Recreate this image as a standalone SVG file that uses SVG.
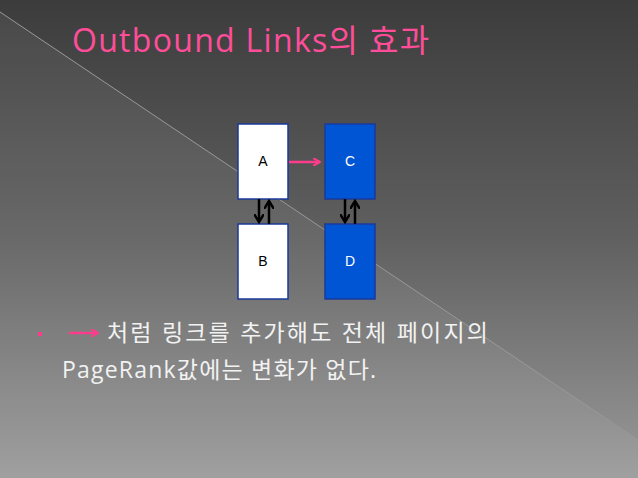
<svg xmlns="http://www.w3.org/2000/svg" width="638" height="478" viewBox="0 0 638 478">
<defs>
<linearGradient id="bg" x1="0" y1="0" x2="0" y2="1"><stop offset="0" stop-color="#3c3c3c"/><stop offset="0.5" stop-color="#606060"/><stop offset="1" stop-color="#9a9a9a"/></linearGradient>
<marker id="pk" markerWidth="8" markerHeight="8" refX="7" refY="4" orient="auto" markerUnits="userSpaceOnUse"><path d="M0,0 L7,4 L0,8" fill="none" stroke="#ff3c8c" stroke-width="2"/></marker>
<marker id="bk" markerWidth="10" markerHeight="10" refX="8" refY="5" orient="auto" markerUnits="userSpaceOnUse"><path d="M0,0 L8,5 L0,10" fill="none" stroke="#000" stroke-width="2.5"/></marker>
<style>
.w{fill:#fff;stroke:#1a3a9a;stroke-width:1.5}
.b{fill:#0055d4;stroke:#1a3a9a;stroke-width:1.5}
.t{font-family:"Liberation Sans",sans-serif;font-size:14px;text-anchor:middle}
</style>
</defs>
<rect width="638" height="478" fill="url(#bg)"/>
<polygon points="0,12 638,440 638,478 0,478" fill="#fff" opacity="0.06"/>
<line x1="0" y1="12" x2="638" y2="440" stroke="#999" stroke-width="1"/>
<text x="72" y="52" font-family="Open Sans,'Noto Sans CJK KR',sans-serif" font-size="32" letter-spacing="1.3" fill="#ff4d9a">Outbound Links의 효과</text>
<g id="A"><rect class="w" x="238" y="124" width="50" height="75"/><text class="t" x="263" y="166" fill="#000">A</text></g>
<g id="C"><rect class="b" x="325" y="124" width="50" height="75"/><text class="t" x="350" y="166" fill="#fff">C</text></g>
<g id="B"><rect class="w" x="238" y="224" width="50" height="75"/><text class="t" x="263" y="266" fill="#000">B</text></g>
<g id="D"><rect class="b" x="325" y="224" width="50" height="75"/><text class="t" x="350" y="266" fill="#fff">D</text></g>
<g id="connectors" stroke-width="2.5" fill="none">
<line x1="289" y1="162" x2="320" y2="162" stroke="#ff3c8c" marker-end="url(#pk)"/>
<line x1="259" y1="199" x2="259" y2="222" stroke="#000" marker-end="url(#bk)"/>
<line x1="269" y1="224" x2="269" y2="201" stroke="#000" marker-end="url(#bk)"/>
<line x1="345" y1="199" x2="345" y2="222" stroke="#000" marker-end="url(#bk)"/>
<line x1="355" y1="224" x2="355" y2="201" stroke="#000" marker-end="url(#bk)"/>
</g>
<rect x="38" y="332" width="4" height="4" fill="#ff3c8c"/>
<line x1="69" y1="333" x2="98" y2="333" stroke="#ff3c8c" stroke-width="2.5" marker-end="url(#pk)"/>
<g font-family="Open Sans,'Noto Sans CJK KR',sans-serif" font-size="23" fill="#f2f2f2">
<text x="107" y="341" letter-spacing="2.2">처럼 링크를 추가해도 전체 페이지의</text>
<text x="62" y="378" letter-spacing="1.2">PageRank값에는 변화가 없다.</text>
</g>
</svg>
